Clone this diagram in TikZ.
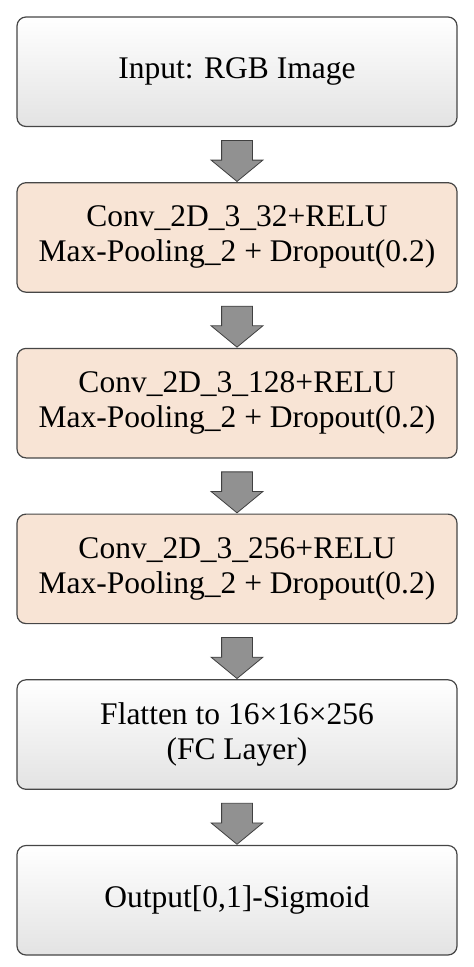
\documentclass[tikz,border=0pt]{standalone}
\usepackage{fontspec}
\setmainfont{Liberation Serif}
\usepackage{tikz}
\usetikzlibrary{arrows.meta,positioning,shapes.arrows}

\definecolor{convfill}{RGB}{248,228,213}
\definecolor{boxline}{RGB}{70,70,70}
\definecolor{arrowfill}{RGB}{145,145,145}

\begin{document}
\begin{tikzpicture}[
  node distance=55pt,
  layerbox/.style={
    draw=boxline,
    line width=1.2pt,
    rounded corners=9pt,
    align=center,
    minimum width=440pt,
    minimum height=109.5pt,
    font=\fontsize{31.5}{35}\selectfont
  },
  plainbox/.style={
    layerbox,
    top color=white,
    middle color=white,
    bottom color=black!11
  },
  convbox/.style={
    layerbox,
    fill=convfill
  },
  fatarrow/.style={
    single arrow,
    draw=black!75,
    fill=arrowfill,
    line width=0.8pt,
    inner xsep=0pt,
    inner ysep=15pt,
    minimum height=41pt,
    single arrow head extend=10.5pt,
    single arrow tip angle=101,
    rotate=-90
  }
]
\useasboundingbox (0,0) rectangle (474pt,-967pt);

% Layers
\node[plainbox] (input) at (237pt,-71.75pt) {Input: RGB Image};

\node[convbox,below=of input] (conv1) {Conv\_2D\_3\_32+RELU\\Max-Pooling\_2 + Dropout(0.2)};

\node[convbox,below=of conv1] (conv2) {Conv\_2D\_3\_128+RELU\\Max-Pooling\_2 + Dropout(0.2)};

\node[convbox,below=of conv2] (conv3) {Conv\_2D\_3\_256+RELU\\Max-Pooling\_2 + Dropout(0.2)};

\node[plainbox,below=of conv3] (flatten) {Flatten to 16×16×256\\(FC Layer)};

\node[plainbox,below=of flatten] (output) {Output[0,1]-Sigmoid};

% Block arrows between layers
\path (input) -- node[fatarrow] (a1) {} (conv1);
\path (conv1) -- node[fatarrow] (a2) {} (conv2);
\path (conv2) -- node[fatarrow] (a3) {} (conv3);
\path (conv3) -- node[fatarrow] (a4) {} (flatten);
\path (flatten) -- node[fatarrow] (a5) {} (output);

\end{tikzpicture}
\end{document}
